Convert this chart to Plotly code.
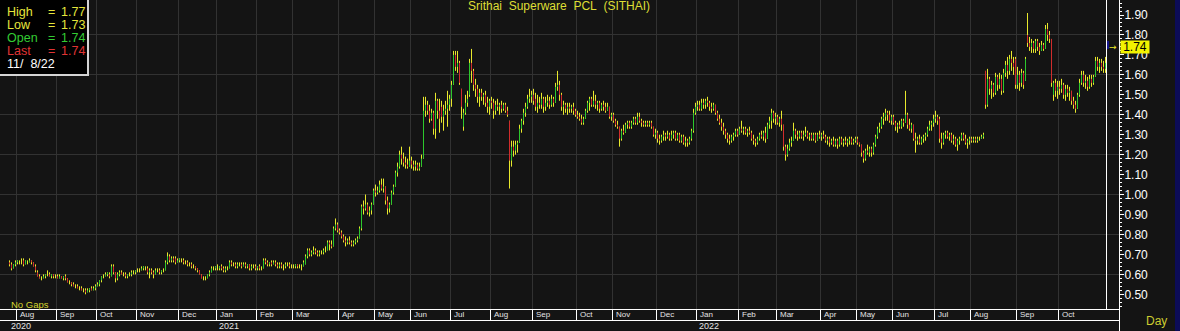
import plotly.graph_objects as go

# ---------------- data (daily OHLC) ----------------
open_ = [
 .66,.65,.63,.65,.66,.66,.66,.67,.65,.66,
 .66,.67,.66,.64,.61,.59,.58,.58,.59,.60,
 .60,.59,.60,.59,.59,.58,.59,.58,.59,.58,
 .56,.56,.55,.54,.54,.53,.53,.52,.52,.51,
 .52,.53,.52,.53,.54,.55,.57,.59,.59,.60,
 .60,.59,.64,.61,.58,.60,.61,.60,.60,.59,
 .60,.60,.61,.61,.62,.62,.62,.63,.63,.63,
 .61,.62,.61,.60,.62,.62,.61,.62,.62,.66,
 .69,.67,.68,.68,.66,.67,.67,.67,.66,.66,
 .65,.65,.64,.64,.63,.62,.60,.58,.58,.58,
 .60,.61,.63,.63,.63,.63,.64,.63,.62,.63,
 .63,.66,.65,.65,.64,.65,.65,.64,.65,.64,
 .65,.63,.64,.64,.63,.64,.63,.63,.67,.66,
 .65,.66,.65,.66,.65,.64,
 .65,.64,.64,.65,
 .65,.64,.64,.64,.65,.64,.64,.64,.65,.69,
 .72,.70,.71,.72,.71,.70,.71,.71,.72,.72,
 .76,.75,.74,.83,.85,.82,.81,.79,.77,.76,
 .77,.76,.75,.76,.77,.78,.83,.94,.93,.95,
 .91,.92,.95,1.02,1.01,1.02,1.05,1.03,1.04,.97,
 .93,.95,1.01,1.04,1.11,1.14,1.20,1.18,1.16,1.15,
 1.14,1.17,1.15,1.14,1.15,1.13,1.14,1.18,1.42,1.45,
 1.42,1.38,1.41,1.33,1.47,1.42,1.44,1.39,1.42,1.43,
 1.45,1.48,1.55,1.70,1.64,1.66,1.53,1.34,1.41,1.46,
 1.50,1.66,1.62,1.55,1.53,1.49,1.51,1.49,1.50,1.46,
 1.44,1.47,1.46,1.42,1.45,1.44,1.45,1.43,1.45,1.42,
 1.37,1.17,1.24,1.22,1.25,1.26,1.33,1.37,1.41,1.44,
 1.48,1.49,1.50,1.48,1.44,1.46,1.45,1.48,1.44,1.46,
 1.47,1.45,1.48,1.46,1.54,1.55,1.50,1.44,1.45,1.43,
 1.44,1.43,1.44,1.42,1.40,1.39,1.38,1.36,1.38,1.42,
 1.46,1.48,1.45,1.47,1.45,1.46,1.43,1.45,1.44,1.42,
 1.44,1.39,1.40,1.37,1.35,1.34,1.28,1.32,1.31,1.35,
 1.36,1.34,1.36,1.38,1.36,1.39,1.37,1.36,1.35,1.36,
 1.35,1.36,1.34,1.30,1.31,1.28,1.27,1.29,1.30,1.29,
 1.30,1.28,1.30,1.31,1.28,1.30,1.27,1.29,1.26,1.27,
 1.26,1.28,1.32,1.41,1.44,1.45,1.43,1.46,1.45,1.47,
 1.46,1.44,1.43,1.45,1.41,1.38,1.36,1.34,1.32,1.30,
 1.28,1.27,1.29,1.30,1.32,1.30,1.33,1.32,1.33,1.31,
 1.32,1.31,1.28,1.27,1.26,1.28,1.30,1.29,1.31,1.28,
 1.35,1.37,1.41,1.38,1.39,1.36,1.38,1.35,1.24,1.20,
 1.23,1.26,1.27,1.32,1.30,1.29,1.31,1.29,1.30,1.31,
 1.29,1.30,1.28,1.30,1.27,1.30,1.29,1.30,1.29,1.27,
 1.28,1.26,1.27,1.25,1.27,1.25,
 1.28,1.26,1.27,1.26,
 1.27,1.28,1.26,1.27,1.28,1.26,1.25,1.21,1.18,1.22,
 1.21,1.23,1.21,1.25,1.29,1.33,1.34,1.38,1.39,1.41,
 1.40,1.37,1.39,1.36,1.34,1.35,1.34,1.37,1.36,1.40,
 1.35,1.33,1.35,1.28,1.27,1.28,1.26,1.28,1.29,1.30,
 1.33,1.35,1.36,1.38,1.39,1.38,1.28,1.26,1.30,1.31,
 1.29,1.30,1.27,1.28,1.25,1.27,1.28,1.30,1.28,1.26,
 1.27,1.28,1.27,1.28,1.27,1.28,1.28,1.29,1.62,1.45,
 1.58,1.53,1.55,1.51,1.59,1.55,1.58,1.52,1.61,1.65,
 1.62,1.68,1.66,1.68,1.55,1.60,1.56,1.61,1.57,1.80,
 1.76,1.74,1.76,1.73,1.77,1.74,1.72,1.75,1.73,1.83,
 1.80,1.78,1.50,1.56,1.52,1.54,1.53,1.55,1.50,1.53,
 1.51,1.52,1.47,1.45,1.43,1.50,1.56,1.60,1.56,1.57,
 1.54,1.58,1.56,1.59,1.67,1.64,1.66,1.64,1.63,1.74,
]
high = [
 .67,.66,.65,.67,.67,.67,.68,.68,.67,.67,
 .68,.67,.66,.65,.62,.60,.59,.60,.60,.62,
 .61,.60,.60,.60,.60,.60,.59,.59,.60,.58,
 .57,.56,.56,.55,.55,.54,.54,.53,.53,.53,
 .53,.54,.54,.55,.56,.57,.59,.60,.61,.61,
 .61,.65,.65,.61,.61,.62,.62,.61,.61,.60,
 .61,.62,.62,.62,.63,.63,.64,.64,.64,.64,
 .63,.63,.62,.63,.63,.63,.62,.63,.67,.71,
 .70,.69,.69,.69,.68,.68,.68,.68,.67,.67,
 .66,.66,.65,.64,.63,.62,.60,.59,.59,.60,
 .62,.64,.64,.64,.65,.64,.65,.64,.64,.64,
 .67,.67,.66,.66,.66,.66,.66,.66,.66,.65,
 .65,.65,.65,.65,.64,.65,.64,.68,.68,.67,
 .66,.67,.67,.67,.66,.66,
 .66,.65,.66,.66,
 .66,.65,.65,.65,.65,.65,.65,.67,.70,.73,
 .73,.72,.74,.73,.72,.72,.72,.73,.74,.77,
 .77,.77,.84,.88,.86,.83,.82,.80,.79,.78,
 .79,.77,.77,.78,.79,.84,.95,.97,1.00,.96,
 .94,.96,1.03,1.05,1.04,1.07,1.08,1.08,1.04,.99,
 .96,1.02,1.05,1.12,1.16,1.22,1.24,1.21,1.19,1.18,
 1.24,1.19,1.17,1.17,1.16,1.16,1.20,1.49,1.49,1.47,
 1.45,1.43,1.42,1.51,1.48,1.48,1.47,1.45,1.47,1.52,
 1.50,1.57,1.72,1.72,1.72,1.67,1.53,1.43,1.50,1.52,
 1.68,1.73,1.63,1.58,1.55,1.53,1.53,1.51,1.52,1.49,
 1.48,1.49,1.48,1.47,1.48,1.46,1.47,1.46,1.46,1.44,
 1.37,1.27,1.27,1.27,1.27,1.35,1.38,1.43,1.46,1.50,
 1.53,1.52,1.53,1.51,1.50,1.49,1.51,1.49,1.49,1.50,
 1.49,1.50,1.49,1.56,1.62,1.57,1.51,1.47,1.46,1.46,
 1.46,1.45,1.46,1.43,1.42,1.41,1.40,1.39,1.43,1.47,
 1.49,1.49,1.52,1.50,1.47,1.47,1.46,1.47,1.46,1.46,
 1.44,1.41,1.41,1.38,1.37,1.34,1.33,1.35,1.36,1.37,
 1.37,1.37,1.39,1.39,1.41,1.41,1.38,1.37,1.37,1.37,
 1.37,1.37,1.34,1.33,1.32,1.30,1.30,1.32,1.31,1.32,
 1.31,1.32,1.32,1.32,1.31,1.31,1.30,1.30,1.29,1.28,
 1.29,1.33,1.43,1.46,1.47,1.47,1.48,1.48,1.48,1.49,
 1.47,1.46,1.46,1.45,1.42,1.40,1.38,1.36,1.33,1.31,
 1.30,1.30,1.31,1.33,1.33,1.34,1.37,1.34,1.34,1.33,
 1.34,1.32,1.30,1.28,1.29,1.31,1.32,1.32,1.34,1.36,
 1.39,1.43,1.42,1.41,1.40,1.39,1.42,1.35,1.25,1.25,
 1.28,1.29,1.36,1.33,1.32,1.32,1.32,1.32,1.34,1.32,
 1.31,1.31,1.31,1.31,1.31,1.32,1.31,1.32,1.30,1.29,
 1.29,1.28,1.29,1.28,1.28,1.29,
 1.29,1.28,1.29,1.28,
 1.29,1.29,1.28,1.29,1.29,1.26,1.25,1.22,1.23,1.25,
 1.24,1.24,1.26,1.30,1.34,1.36,1.39,1.41,1.43,1.42,
 1.42,1.40,1.40,1.37,1.36,1.37,1.38,1.38,1.52,1.41,
 1.38,1.36,1.35,1.31,1.29,1.30,1.29,1.30,1.31,1.34,
 1.37,1.37,1.40,1.42,1.40,1.39,1.31,1.31,1.32,1.32,
 1.31,1.31,1.30,1.29,1.28,1.29,1.31,1.31,1.30,1.28,
 1.29,1.29,1.29,1.29,1.29,1.29,1.30,1.31,1.62,1.63,
 1.59,1.57,1.56,1.61,1.60,1.61,1.60,1.63,1.67,1.69,
 1.70,1.72,1.69,1.69,1.64,1.62,1.63,1.62,1.69,1.91,
 1.79,1.78,1.77,1.78,1.78,1.76,1.77,1.76,1.85,1.86,
 1.82,1.78,1.57,1.58,1.57,1.57,1.58,1.56,1.55,1.55,
 1.54,1.52,1.49,1.47,1.51,1.58,1.62,1.62,1.60,1.59,
 1.60,1.60,1.60,1.69,1.69,1.68,1.68,1.67,1.69,1.77,
]
low = [
 .64,.62,.63,.64,.65,.65,.65,.64,.65,.65,
 .66,.65,.64,.61,.59,.58,.57,.58,.58,.59,
 .59,.58,.58,.58,.58,.58,.58,.57,.57,.56,
 .55,.54,.54,.53,.53,.52,.52,.51,.50,.51,
 .51,.52,.52,.52,.54,.54,.56,.58,.59,.59,
 .58,.59,.60,.56,.57,.59,.60,.59,.58,.58,
 .59,.59,.60,.60,.61,.61,.62,.62,.62,.60,
 .58,.60,.58,.60,.61,.60,.60,.61,.62,.65,
 .66,.66,.66,.65,.66,.66,.66,.65,.65,.64,
 .64,.63,.63,.62,.61,.60,.58,.57,.57,.58,
 .59,.61,.62,.62,.62,.62,.62,.61,.61,.62,
 .63,.64,.64,.63,.63,.64,.63,.64,.63,.63,
 .62,.62,.63,.62,.62,.62,.62,.63,.65,.64,
 .64,.64,.65,.64,.63,.63,
 .63,.62,.63,.64,
 .63,.63,.63,.63,.63,.63,.62,.64,.65,.68,
 .69,.69,.70,.70,.69,.69,.70,.70,.71,.72,
 .72,.73,.74,.82,.81,.80,.78,.76,.74,.75,
 .75,.74,.74,.75,.76,.78,.82,.90,.92,.90,
 .89,.90,.95,.99,1.00,1.01,1.02,1.01,.95,.90,
 .91,.95,1.00,1.04,1.09,1.13,1.15,1.14,1.13,1.13,
 1.14,1.13,1.12,1.12,1.12,1.12,1.14,1.18,1.39,1.40,
 1.36,1.37,1.30,1.28,1.38,1.31,1.36,1.32,1.40,1.34,
 1.42,1.44,1.55,1.62,1.61,1.55,1.38,1.32,1.40,1.44,
 1.49,1.56,1.52,1.49,1.46,1.44,1.47,1.45,1.44,1.41,
 1.40,1.43,1.38,1.40,1.42,1.40,1.41,1.42,1.41,1.39,
 1.03,1.14,1.19,1.20,1.21,1.26,1.31,1.35,1.39,1.43,
 1.46,1.46,1.45,1.42,1.41,1.43,1.43,1.41,1.42,1.44,
 1.43,1.44,1.44,1.46,1.52,1.47,1.42,1.40,1.41,1.40,
 1.41,1.41,1.40,1.39,1.38,1.37,1.35,1.35,1.38,1.41,
 1.42,1.44,1.44,1.43,1.42,1.41,1.42,1.42,1.41,1.42,
 1.38,1.37,1.36,1.34,1.33,1.24,1.27,1.30,1.31,1.33,
 1.33,1.33,1.35,1.35,1.35,1.36,1.34,1.34,1.34,1.34,
 1.34,1.33,1.29,1.28,1.26,1.25,1.26,1.27,1.27,1.28,
 1.27,1.27,1.28,1.27,1.27,1.26,1.26,1.25,1.24,1.24,
 1.25,1.27,1.31,1.40,1.42,1.42,1.42,1.43,1.43,1.44,
 1.42,1.41,1.42,1.40,1.37,1.35,1.32,1.30,1.28,1.26,
 1.25,1.26,1.27,1.29,1.29,1.30,1.31,1.30,1.30,1.29,
 1.30,1.27,1.25,1.24,1.25,1.27,1.28,1.27,1.26,1.28,
 1.33,1.33,1.36,1.35,1.35,1.34,1.32,1.22,1.17,1.19,
 1.22,1.24,1.27,1.28,1.27,1.28,1.28,1.27,1.29,1.28,
 1.27,1.27,1.27,1.26,1.27,1.28,1.27,1.28,1.26,1.25,
 1.24,1.25,1.24,1.24,1.23,1.24,
 1.25,1.24,1.25,1.24,
 1.25,1.25,1.25,1.26,1.25,1.24,1.19,1.16,1.17,1.20,
 1.19,1.19,1.20,1.24,1.28,1.31,1.33,1.35,1.37,1.37,
 1.36,1.35,1.35,1.32,1.31,1.33,1.33,1.34,1.36,1.33,
 1.32,1.31,1.27,1.21,1.25,1.25,1.25,1.26,1.27,1.29,
 1.32,1.32,1.34,1.36,1.35,1.26,1.23,1.25,1.28,1.28,
 1.27,1.26,1.25,1.24,1.22,1.25,1.27,1.27,1.25,1.23,
 1.25,1.26,1.26,1.26,1.26,1.27,1.28,1.28,1.43,1.44,
 1.50,1.48,1.49,1.50,1.52,1.53,1.50,1.51,1.59,1.58,
 1.60,1.62,1.60,1.53,1.53,1.52,1.54,1.53,1.57,1.74,
 1.72,1.71,1.71,1.71,1.72,1.70,1.72,1.72,1.73,1.77,
 1.76,1.54,1.47,1.49,1.48,1.50,1.51,1.48,1.47,1.49,
 1.47,1.45,1.43,1.41,1.43,1.49,1.55,1.54,1.53,1.52,
 1.53,1.54,1.55,1.59,1.62,1.61,1.62,1.61,1.61,1.73,
]
close = [
 .65,.63,.65,.66,.67,.66,.66,.65,.67,.66,
 .67,.66,.64,.62,.59,.58,.58,.59,.60,.60,
 .59,.60,.59,.59,.58,.59,.58,.59,.58,.56,
 .56,.55,.54,.54,.53,.53,.52,.52,.51,.52,
 .53,.52,.53,.54,.55,.57,.59,.59,.60,.61,
 .59,.64,.61,.58,.60,.61,.60,.60,.59,.60,
 .60,.61,.61,.62,.62,.62,.63,.64,.63,.61,
 .62,.61,.60,.62,.62,.61,.62,.62,.66,.69,
 .67,.68,.67,.66,.67,.68,.67,.66,.66,.65,
 .65,.64,.64,.63,.62,.60,.58,.58,.58,.60,
 .61,.63,.63,.64,.63,.64,.63,.62,.63,.63,
 .66,.65,.65,.64,.65,.65,.64,.65,.64,.65,
 .63,.64,.64,.63,.64,.63,.63,.67,.66,.65,
 .66,.65,.66,.65,.64,.65,
 .64,.64,.65,.65,
 .64,.64,.64,.65,.64,.64,.64,.66,.69,.72,
 .70,.71,.72,.71,.70,.71,.71,.72,.72,.76,
 .75,.74,.83,.85,.82,.81,.79,.77,.76,.77,
 .76,.75,.76,.77,.78,.83,.94,.93,.95,.91,
 .92,.95,1.02,1.01,1.02,1.05,1.03,1.04,.97,.93,
 .95,1.01,1.04,1.11,1.14,1.20,1.18,1.16,1.15,1.14,
 1.17,1.15,1.14,1.15,1.13,1.14,1.18,1.42,1.45,1.42,
 1.38,1.41,1.33,1.47,1.42,1.38,1.39,1.42,1.43,1.45,
 1.48,1.55,1.70,1.64,1.66,1.56,1.44,1.41,1.46,1.48,
 1.66,1.62,1.55,1.53,1.49,1.51,1.49,1.50,1.46,1.44,
 1.47,1.46,1.42,1.45,1.44,1.45,1.43,1.45,1.42,1.40,
 1.17,1.24,1.22,1.25,1.26,1.33,1.37,1.41,1.44,1.48,
 1.49,1.50,1.47,1.44,1.46,1.45,1.48,1.44,1.46,1.47,
 1.45,1.48,1.46,1.54,1.55,1.50,1.44,1.45,1.43,1.44,
 1.43,1.44,1.42,1.40,1.39,1.38,1.36,1.38,1.42,1.46,
 1.48,1.45,1.47,1.45,1.46,1.43,1.45,1.44,1.42,1.44,
 1.39,1.40,1.37,1.35,1.34,1.28,1.32,1.31,1.35,1.36,
 1.34,1.36,1.38,1.36,1.39,1.37,1.36,1.35,1.36,1.35,
 1.36,1.34,1.30,1.31,1.28,1.27,1.29,1.30,1.29,1.30,
 1.28,1.30,1.31,1.28,1.30,1.27,1.29,1.26,1.27,1.26,
 1.28,1.32,1.41,1.44,1.45,1.43,1.46,1.45,1.47,1.46,
 1.44,1.43,1.45,1.41,1.38,1.36,1.34,1.32,1.30,1.28,
 1.27,1.29,1.30,1.32,1.30,1.33,1.32,1.33,1.31,1.32,
 1.31,1.28,1.27,1.26,1.28,1.30,1.29,1.31,1.28,1.35,
 1.37,1.41,1.38,1.39,1.36,1.38,1.35,1.24,1.20,1.23,
 1.26,1.27,1.32,1.30,1.29,1.31,1.29,1.30,1.31,1.29,
 1.30,1.28,1.30,1.27,1.30,1.29,1.30,1.29,1.27,1.28,
 1.26,1.27,1.25,1.27,1.25,1.28,
 1.26,1.27,1.26,1.27,
 1.28,1.26,1.27,1.28,1.26,1.25,1.21,1.18,1.22,1.21,
 1.23,1.21,1.25,1.29,1.33,1.34,1.38,1.39,1.41,1.40,
 1.37,1.39,1.36,1.34,1.35,1.34,1.37,1.36,1.40,1.35,
 1.33,1.35,1.28,1.27,1.28,1.26,1.28,1.29,1.30,1.33,
 1.35,1.36,1.38,1.39,1.37,1.28,1.26,1.30,1.31,1.29,
 1.30,1.27,1.28,1.25,1.27,1.28,1.30,1.28,1.26,1.27,
 1.28,1.27,1.28,1.27,1.28,1.28,1.29,1.30,1.45,1.58,
 1.53,1.55,1.51,1.59,1.55,1.58,1.52,1.61,1.65,1.62,
 1.68,1.66,1.64,1.55,1.60,1.56,1.61,1.55,1.68,1.76,
 1.74,1.76,1.73,1.77,1.74,1.72,1.75,1.73,1.83,1.80,
 1.78,1.56,1.56,1.52,1.54,1.53,1.55,1.50,1.53,1.51,
 1.52,1.47,1.45,1.43,1.50,1.56,1.60,1.56,1.57,1.54,
 1.58,1.56,1.59,1.67,1.64,1.66,1.64,1.63,1.66,1.74,
]

# trading-day calendar: bars per month (first entry = tail of Jul 2020)
month_names = ["Jul", "Aug", "Sep", "Oct", "Nov", "Dec",
               "Jan", "Feb", "Mar", "Apr", "May", "Jun", "Jul", "Aug", "Sep", "Oct", "Nov", "Dec",
               "Jan", "Feb", "Mar", "Apr", "May", "Jun", "Jul", "Aug", "Sep", "Oct"]
bars_per_month = [4, 20, 20, 20, 21, 19,
                  20, 18, 23, 18, 18, 20, 20, 21, 22, 18, 22, 20,
                  21, 19, 22, 18, 18, 21, 18, 23, 21, 25]
first_year = 2020
title_text = "Srithai\u00a0\u00a0Superware\u00a0\u00a0PCL\u00a0\u00a0(SITHAI)"
last_date = "11/\u00a0\u00a08/22"

assert len(open_) == len(high) == len(low) == len(close) == sum(bars_per_month)

# ---------------- styling ----------------
FONT = "Liberation Sans, Arial, sans-serif"
BG = "#141414"
GRID = "#323232"
YEL = "#e8e82c"
GRN = "#2cc82c"
RED = "#d02c2c"
NAVY = "#14148a"
PW, PH = 1119, 309          # plot area in px


def xp(px):
    return px / PW


def yp(py):
    return 1 - py / PH


n = len(close)
wx, wy, ux, uy, dx, dy = [], [], [], [], [], []
for i in range(n - 1):
    wx += [i, i, None]
    wy += [low[i], high[i], None]
    if close[i] > open_[i]:
        ux += [i, i, None]
        uy += [open_[i], close[i], None]
    elif close[i] < open_[i]:
        dx += [i, i, None]
        dy += [open_[i], close[i], None]

fig = go.Figure()
fig.add_trace(go.Scatter(x=wx, y=wy, mode="lines", line=dict(color=YEL, width=1), hoverinfo="skip"))
fig.add_trace(go.Scatter(x=ux, y=uy, mode="lines", line=dict(color=GRN, width=1), hoverinfo="skip"))
fig.add_trace(go.Scatter(x=dx, y=dy, mode="lines", line=dict(color=RED, width=1), hoverinfo="skip"))
fig.add_trace(go.Scatter(x=[n - 1, n - 1], y=[low[-1], high[-1]], mode="lines",
                         line=dict(color=NAVY, width=3), hoverinfo="skip"))
fig.add_trace(go.Scatter(x=[None], y=[None], yaxis="y2", hoverinfo="skip"))

# month boundaries
starts = []
s = 0
for c in bars_per_month:
    starts.append(s)
    s += c
tickvals = [st - 0.5 for st in starts if st > 0]

YR = [0.4263, 1.9752]
fig.update_layout(
    template="none",
    width=1180, height=331,
    margin=dict(l=0, r=61, t=0, b=22, pad=0),
    paper_bgcolor=BG, plot_bgcolor=BG,
    showlegend=False,
    font=dict(family=FONT, color="white"),
    xaxis=dict(range=[-4.75, 554.75], tickvals=tickvals, ticks="outside", ticklen=11,
               tickcolor="white", tickwidth=1, showticklabels=False, showgrid=True,
               gridcolor=GRID, gridwidth=1, zeroline=False, showline=False, automargin=False),
    yaxis=dict(range=YR, side="right", dtick=0.1, tick0=0, tickformat=".2f", ticks="outside",
               ticklen=4, tickcolor="white", tickwidth=1, showline=True, linecolor="white",
               linewidth=1, showgrid=False, zeroline=False, automargin=False,
               ticklabelstandoff=-2,
               tickfont=dict(family=FONT, size=12, color="white"),
               minor=dict(dtick=0.02, tick0=0, ticks="outside", ticklen=2, tickcolor="white",
                          showgrid=False)),
    yaxis2=dict(range=YR, overlaying="y", side="right", dtick=0.2, tick0=0, showgrid=True,
                gridcolor=GRID, gridwidth=1, showticklabels=False, ticks="", showline=False,
                zeroline=False, automargin=False),
)

shapes = [
    # strip between cursor line and price axis (hide grid there)
    dict(type="rect", xref="paper", yref="paper", x0=xp(1106.5), x1=xp(1119), y0=0, y1=1,
         fillcolor=BG, line=dict(width=0), layer="between"),
    # cursor line
    dict(type="line", xref="paper", yref="paper", x0=xp(1106.5), x1=xp(1106.5), y0=0, y1=1,
         line=dict(color="white", width=1)),
    # date rows
    dict(type="line", xref="paper", yref="paper", x0=0, x1=xp(1119.5), y0=yp(309.5), y1=yp(309.5),
         line=dict(color="white", width=1)),
    dict(type="line", xref="paper", yref="paper", x0=0, x1=xp(1119.5), y0=yp(320.5), y1=yp(320.5),
         line=dict(color="white", width=1)),
    # price axis extension down to the bottom
    dict(type="line", xref="paper", yref="paper", x0=xp(1119.5), x1=xp(1119.5), y0=yp(309), y1=yp(331),
         line=dict(color="white", width=1)),
    # navy strip at the right edge
    dict(type="rect", xref="paper", yref="paper", x0=xp(1175), x1=xp(1181), y0=yp(332), y1=yp(-1),
         fillcolor="#0c0c58", line=dict(width=0)),
    # info box
    dict(type="rect", xref="paper", yref="paper", x0=xp(-2), x1=xp(88), y0=yp(75), y1=yp(-2),
         fillcolor="black", line=dict(color="#d4d4d4", width=2)),
]
fig.update_layout(shapes=shapes)

ann = []
# title
ann.append(dict(text=title_text, xref="paper", yref="paper", x=xp(559), y=yp(6), xanchor="center",
                yanchor="middle", showarrow=False, font=dict(family=FONT, size=12, color="#dede34")))
# month and year labels
year = first_year
for k, (name, st) in enumerate(zip(month_names, starts)):
    if st > 0:
        ann.append(dict(text=name, xref="x", yref="paper", x=st - 0.5, y=yp(314.5), xanchor="left",
                        yanchor="middle", xshift=1, showarrow=False,
                        font=dict(family=FONT, size=8, color="#e4e4e4")))
    if k > 0 and name == "Jan":
        year += 1
    if k == 0 or name == "Jan":
        ann.append(dict(text=str(year), xref="x", yref="paper", x=st - 0.5, y=yp(326), xanchor="left",
                        yanchor="middle", xshift=0, showarrow=False,
                        font=dict(family=FONT, size=9, color="#e4e4e4")))
# misc labels
ann.append(dict(text="No Gaps", xref="paper", yref="paper", x=xp(9), y=yp(304), xanchor="left",
                yanchor="middle", showarrow=False, font=dict(family=FONT, size=9.5, color="#d6d630")))
ann.append(dict(text="Day", xref="paper", yref="paper", x=xp(1144), y=yp(321), xanchor="left",
                yanchor="middle", showarrow=False, font=dict(family=FONT, size=12, color="#cccc30")))
# current price marker
ann.append(dict(text=f"{close[-1]:.2f}", xref="paper", yref="y", x=xp(1120), y=close[-1],
                xanchor="left", yanchor="middle", showarrow=False, bgcolor="#f2f200",
                width=28, height=12, borderpad=0, font=dict(family=FONT, size=12, color="black")))
ann.append(dict(text="\u2192", xref="paper", yref="y", x=xp(1107), y=close[-1], xanchor="left",
                yanchor="middle", showarrow=False, font=dict(family="DejaVu Sans", size=9, color=YEL)))
# info box rows
rows = [("High", high[-1], "#e6e63c"), ("Low", low[-1], "#e6e63c"),
        ("Open", open_[-1], "#33cc33"), ("Last", close[-1], "#e03434")]
for r, (lab, val, col) in enumerate(rows):
    yy = 12 + r * 13
    ann.append(dict(text=lab, xref="paper", yref="paper", x=xp(5), y=yp(yy), xanchor="left",
                    yanchor="middle", showarrow=False, font=dict(family=FONT, size=12.5, color=col)))
    ann.append(dict(text="=", xref="paper", yref="paper", x=xp(46), y=yp(yy), xanchor="left",
                    yanchor="middle", showarrow=False, font=dict(family=FONT, size=12.5, color=col)))
    ann.append(dict(text=f"{val:.2f}", xref="paper", yref="paper", x=xp(59), y=yp(yy), xanchor="left",
                    yanchor="middle", showarrow=False, font=dict(family=FONT, size=12.5, color=col)))
ann.append(dict(text=last_date, xref="paper", yref="paper", x=xp(5), y=yp(64), xanchor="left",
                yanchor="middle", showarrow=False, font=dict(family=FONT, size=12.5, color="white")))
fig.update_layout(annotations=ann)

fig.write_html("out.html")
